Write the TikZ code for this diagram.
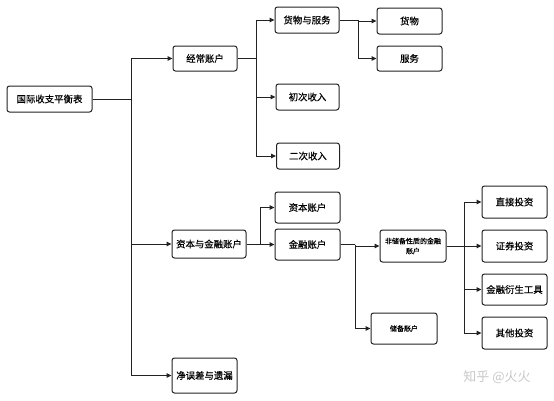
\documentclass[tikz,border=0pt]{standalone}
\usepackage{fontspec}
\newfontfamily\cjk[FakeBold=0.4]{Noto Sans CJK SC}
\newfontfamily\cjkmark{Noto Sans CJK SC}
\usetikzlibrary{arrows.meta,positioning,calc}
\definecolor{bopLine}{HTML}{222222}
\definecolor{bopMark}{HTML}{C8C8C8}

\begin{document}
\begin{tikzpicture}[x=1pt,y=-1pt,
    font=\cjk\fontsize{9.4}{11}\selectfont,
    acct/.style={draw=bopLine,line width=1pt,rounded corners=2.5pt,fill=white,
                 inner sep=1pt,minimum width=65pt,minimum height=26pt},
    tall/.style={acct,minimum height=31pt},
    small/.style={font=\cjk\fontsize{7}{10}\selectfont},
    conn/.style={draw=bopLine,line width=1pt},
    arr/.style={conn,-{Triangle[length=5pt,width=4.5pt]}}]
  \useasboundingbox (0,0) rectangle (554,400);

  % left column
  \node[acct,minimum width=85pt] (bop) at (49.5,99) {国际收支平衡表};
  \node[acct,minimum width=64pt,minimum height=25pt] (ca) at (205,58.5) {经常账户};
  \node[acct,minimum width=74pt,minimum height=28pt] (kfa) at (209,244) {资本与金融账户};
  \node[acct,minimum height=35pt] (neo) at (204.5,375.5) {净误差与遗漏};

  % current account
  \node[acct,minimum width=64pt] (gs) at (307,20) {货物与服务};
  \node[acct,minimum width=63pt] (pi) at (307.5,97) {初次收入};
  \node[acct,minimum width=63pt] (si) at (308,156) {二次收入};
  \node[acct] (goods) at (409.5,21) {货物};
  \node[acct,minimum height=25pt] (serv) at (409.5,58.5) {服务};

  % capital and financial account
  \node[tall] (kac) at (307.5,207.5) {资本账户};
  \node[tall] (fac) at (307.5,244.5) {金融账户};
  \node[tall,small,minimum width=66pt,minimum height=32pt,align=center]
    (nres) at (413,246) {非储备性质的金融\\账户};
  \node[tall,small,minimum width=66pt] (res) at (404,328.5) {储备账户};
  \node[tall,minimum height=32pt] (fdi) at (514.5,202) {直接投资};
  \node[tall,minimum height=32pt] (port) at (514.5,246) {证券投资};
  \node[tall] (deriv) at (514.5,289.5) {金融衍生工具};
  \node[tall,minimum height=32pt] (oth) at (514.5,333) {其他投资};

  % branch points
  \coordinate (t0) at (131.5,99);
  \coordinate (t1) at (256,58.5);
  \coordinate (t2) at (358,20);
  \coordinate (t3) at (260,244);
  \coordinate (t4) at (355,244.5);
  \coordinate (t5) at (464,246);

  \draw[conn] (bop.east) -- (t0);
  \draw[arr] (t0) |- (ca.west);
  \draw[arr] (t0) |- (kfa.west);
  \draw[arr] (t0) |- (neo.west);

  \draw[conn] (ca.east) -- (t1);
  \draw[arr] (t1) |- (gs.west);
  \draw[arr] (t1) |- (pi.west);
  \draw[arr] (t1) |- (si.west);

  \draw[conn] (gs.east) -- (t2);
  \draw[arr] (t2) |- (goods.west);
  \draw[arr] (t2) |- (serv.west);

  \draw[conn] (kfa.east) -- (t3);
  \draw[arr] (t3) |- (kac.west);
  \draw[arr] (t3) |- (fac.west);

  \draw[conn] (fac.east) -- (t4);
  \draw[arr] (t4) |- (nres.west);
  \draw[arr] (t4) |- (res.west);

  \draw[conn] (nres.east) -- (t5);
  \draw[arr] (t5) |- (fdi.west);
  \draw[arr] (t5) |- (port.west);
  \draw[arr] (t5) |- (deriv.west);
  \draw[arr] (t5) |- (oth.west);

  % watermark
  \node[text=bopMark,font=\cjkmark\fontsize{13}{15}\selectfont] (mark) at (497,377) {知乎 @火火};
\end{tikzpicture}
\end{document}
